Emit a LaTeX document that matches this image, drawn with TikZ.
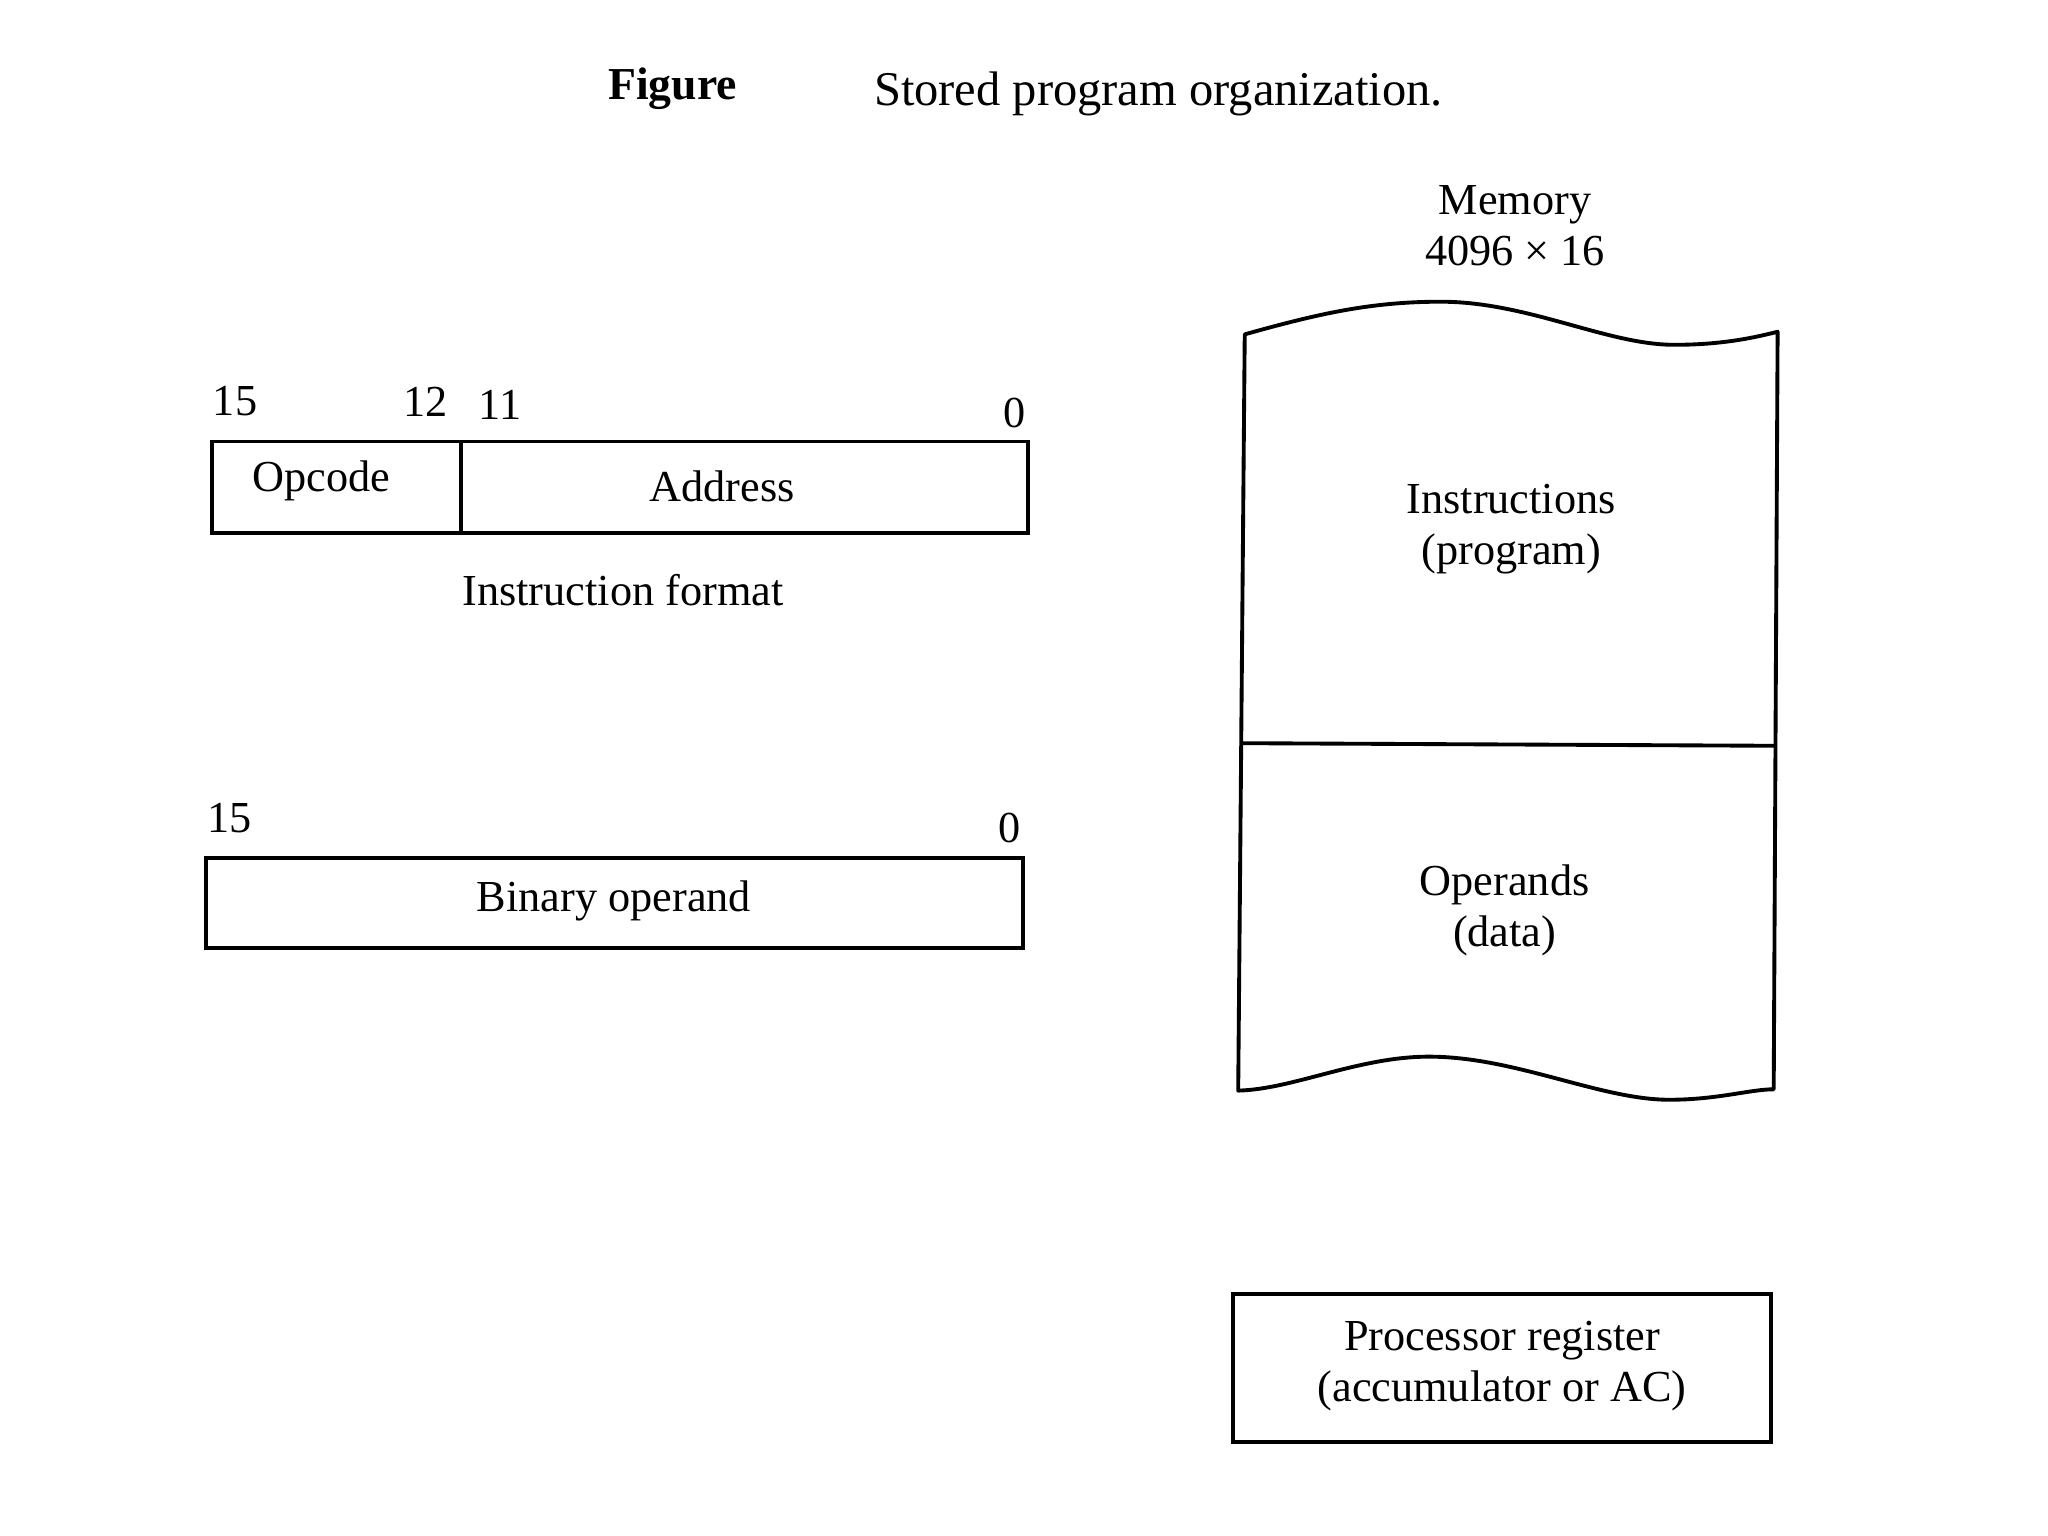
\documentclass[tikz,border=0pt]{standalone}
\usepackage{fontspec}
\setmainfont{Liberation Serif}
\begin{document}
\begin{tikzpicture}[x=0.01306cm, y=-0.01306cm,
  lbl/.style={inner sep=0pt, font=\fontsize{12.6pt}{14.4pt}\selectfont, align=center},
  ttl/.style={inner sep=0pt, font=\fontsize{13.8pt}{15pt}\selectfont},
  box/.style={line width=1.1pt}]
\useasboundingbox (0,0) rectangle (1568,1176);
% title
\node[ttl, font=\fontsize{13pt}{15pt}\selectfont\bfseries] (fig) at (515,68) {Figure};
\node[ttl] (title) at (887,72) {Stored program organization.};
% instruction format
\draw[box] (162,338) rectangle (787,408);
\draw[box] (353,338) -- (353,408);
\node[lbl] (b15) at (180,307) {15};
\node[lbl] (b12) at (326,308) {12};
\node[lbl] (b11) at (383,310) {11};
\node[lbl] (b0) at (777,316) {0};
\node[lbl] (opc) at (246,368) {Opcode};
\node[lbl] (adr) at (553,372) {Address};
\node[lbl] (ifmt) at (477,452) {Instruction format};
% binary operand
\draw[box] (158,657) rectangle (783,726);
\node[lbl] (c15) at (176,626) {15};
\node[lbl] (c0) at (773,634) {0};
\node[lbl] (bop) at (470,690) {Binary operand};
% memory
\node[lbl] (mem) at (1160,173) {Memory\\4096 × 16};
\draw[box, line join=round]
  (953,256) .. controls (1010,240) and (1050,231) .. (1103,231)
  .. controls (1170,231) and (1230,264) .. (1282,264)
  .. controls (1320,264) and (1345,258) .. (1361,254)
  -- (1358,834)
  .. controls (1340,834) and (1315,842) .. (1278,842)
  .. controls (1225,842) and (1160,809) .. (1094,809)
  .. controls (1040,809) and (990,834) .. (948,835)
  -- cycle;
\draw[box] (950,569) -- (1360,571);
\node[lbl] (instr) at (1157,405) {Instructions\\(program)};
\node[lbl] (oper) at (1152,697) {Operands\\(data)};
% processor register
\draw[box] (944,991) rectangle (1356,1104);
\node[lbl] (proc) at (1150,1046) {Processor register\\(accumulator or AC)};
\end{tikzpicture}
\end{document}
